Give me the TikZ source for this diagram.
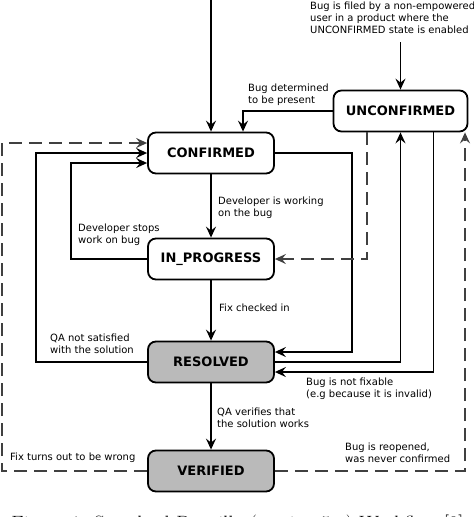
\documentclass[tikz,border=0pt]{standalone}
\usepackage{fontspec}
\newfontfamily\dv{DejaVu Sans}
\usetikzlibrary{arrows.meta,calc}
\begin{document}
\begin{tikzpicture}[x=1pt,y=-1pt,
  state/.style={draw=black, line width=1.8pt, rounded corners=8pt, minimum width=126pt, minimum height=41pt, inner sep=0pt, font=\dv\bfseries\fontsize{13}{15}\selectfont},
  done/.style={state, fill=black!27},
  lbl/.style={font=\dv\fontsize{10}{12}\selectfont, align=left, inner sep=0pt, anchor=west},
  conn/.style={line width=1.5pt, -{Stealth[length=11pt,width=10pt,inset=4pt]}},
  dconn/.style={conn, draw=black!75, dash pattern=on 13pt off 7pt},
  ]
\useasboundingbox (0,0) rectangle (474,517);
\node[state] (conf) at (211,153) {CONFIRMED};
\node[state] (ip) at (211,259) {IN\_PROGRESS};
\node[done] (res) at (211,362) {RESOLVED};
\node[done] (ver) at (211,471) {VERIFIED};
\node[state, minimum width=134pt] (unc) at (400.5,111) {UNCONFIRMED};
\coordinate (top) at (211,0);
\coordinate (filed) at (400.5,42);
\node[lbl] (tfiled) at (310,18) {Bug is filed by a non-empowered\\user in a product where the\\UNCONFIRMED state is enabled};
\node[lbl] (tdet) at (248,95) {Bug determined\\to be present};
\node[lbl] (tstop) at (78,235) {Developer stops\\work on bug};
\node[lbl] (tqa) at (50,343.5) {QA not satisfied\\with the solution};
\node[lbl] (twrong) at (10,458) {Fix turns out to be wrong};
\node[lbl] (twork) at (218,208) {Developer is working\\on the bug};
\node[lbl] (tfix) at (219,308) {Fix checked in};
\node[lbl] (tver) at (217,418) {QA verifies that\\the solution works};
\node[lbl] (tnot) at (306,388.5) {Bug is not fixable\\(e.g because it is invalid)};
\node[lbl] (treo) at (345,452.5) {Bug is reopened,\\was never confirmed};
\draw[conn] (top) -- (conf.north);
\draw[conn] (filed) -- (unc.north);
\draw[conn] (unc.west) -| ([xshift=32pt]conf.north);
\draw[conn] (conf.south) -- (ip.north);
\draw[conn] (ip.south) -- (res.north);
\draw[conn] (res.south) -- (ver.north);
\draw[conn] (ip.west) -- ++(-76,0) |- ([yshift=-10pt]conf.west);
\draw[conn] (res.west) -- ++(-111,0) |- (conf.west);
\draw[dconn] (ver.west) -- (2,471) |- ([yshift=10pt]conf.west);
\draw[conn] (conf.east) -- ++(77,0) |- ([yshift=10pt]res.east);
\draw[dconn] ([xshift=-33.5pt]unc.south) |- (ip.east);
\draw[conn] (res.east) -| (unc.south);
\draw[conn] ([xshift=33pt]unc.south) |- ([yshift=-10pt]res.east);
\draw[dconn] (ver.east) -| ([xshift=64.5pt]unc.south);
\node[anchor=base, font=\fontsize{20.7}{24}\selectfont, inner sep=0pt] (cap) at (237.5,530) {Figure 1: Standard Bugzilla (version 5.x) Workflow [3]};
\end{tikzpicture}
\end{document}
